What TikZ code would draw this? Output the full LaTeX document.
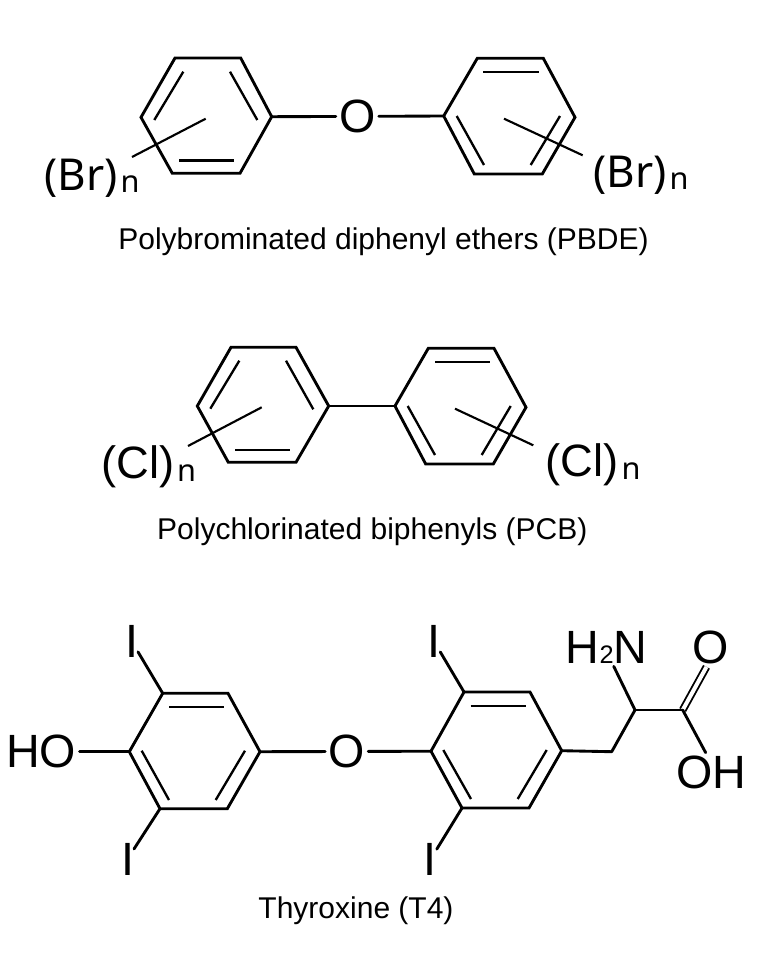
\documentclass[tikz,border=0pt]{standalone}
\usepackage{fontspec}
\setmainfont{Liberation Sans}
\newfontfamily\brfont{Noto Sans}

\begin{document}
\begin{tikzpicture}[x=0.75pt,y=-0.75pt,node distance=36.75pt,
        bond/.style={line width=2.15pt,line join=miter,line cap=round},
        inner/.style={line width=1.75pt,line cap=butt},
        flat/.style={line width=2.2pt,line cap=butt},
        subst/.style={line width=1.6pt},
        atom/.style={font=\fontsize{35}{40}\selectfont,inner sep=0pt,outer sep=2.5pt},
        iodine/.style={atom,outer sep=0pt},
        group/.style={font=\brfont\fontsize{33}{40}\selectfont,inner sep=0pt},
        chlor/.style={font=\fontsize{34}{40}\selectfont,inner sep=0pt},
        subn/.style={font=\brfont\fontsize{23}{28}\selectfont,inner sep=0pt,yshift=-4.5pt},
        caption/.style={font=\fontsize{22.5}{26}\selectfont,inner sep=0pt,anchor=base}]
    \useasboundingbox (0,0) rectangle (760,957);

    % PBDE
    \coordinate (a1) at (175,58); \coordinate (a2) at (240.7,58); \coordinate (a3) at (271.7,116.7);
    \coordinate (a4) at (240,173.3); \coordinate (a5) at (172.3,173.3); \coordinate (a6) at (141,117.3);
    \coordinate (a7) at (183.3,71.7); \coordinate (a8) at (154.3,120);
    \coordinate (a9) at (230,71.7); \coordinate (a10) at (257.3,120);
    \coordinate (a11) at (179,160.7); \coordinate (a12) at (234,160.7);
    \coordinate (a13) at (205.7,118.7); \coordinate (a14) at (132,157);
    \coordinate (b1) at (477.3,58.3); \coordinate (b2) at (543.3,58.3); \coordinate (b3) at (575,117.3);
    \coordinate (b4) at (542.3,174); \coordinate (b5) at (474.3,174); \coordinate (b6) at (443.7,116);
    \coordinate (b7) at (483.3,72); \coordinate (b8) at (539,72);
    \coordinate (b9) at (456.7,116); \coordinate (b10) at (484,165);
    \coordinate (b11) at (560,116); \coordinate (b12) at (530.7,165);
    \coordinate (b13) at (504,118.7); \coordinate (b14) at (582.7,155.3);

    \node[atom] (o1) at (357.3,116.4) {O};
    \node[group] (br1) at (81,178.5) {(Br)};
    \node[subn] (n1) [right of = br1] {n};
    \node[group] (br2) at (630,175) {(Br)};
    \node[subn] (n2) [right of = br2] {n};
    \node[caption] (t1) at (383.5,249) {Polybrominated diphenyl ethers (PBDE)};

    \draw[bond] (a1) -- (a2) -- (a3) -- (a4) -- (a5) -- (a6) -- cycle;
    \draw[bond] (b1) -- (b2) -- (b3) -- (b4) -- (b5) -- (b6) -- cycle;
    \path[bond]
        (a3) edge (o1)
        (o1) edge (b6)
    ;
    \path[inner]
        (a7) edge (a8)
        (a9) edge (a10)
        (b9) edge (b10)
        (b11) edge (b12)
    ;
    \path[flat]
        (a11) edge (a12)
        (b7) edge (b8)
    ;
    \path[subst]
        (a13) edge (a14)
        (b13) edge (b14)
    ;

    % PCB
    \coordinate (c1) at (231,347.3); \coordinate (c2) at (296,347.3); \coordinate (c3) at (328.7,406);
    \coordinate (c4) at (296,462.3); \coordinate (c5) at (228.3,462.3); \coordinate (c6) at (197.3,406);
    \coordinate (c7) at (239.3,360.7); \coordinate (c8) at (210.3,408.7);
    \coordinate (c9) at (286,360.7); \coordinate (c10) at (313.3,409.3);
    \coordinate (c11) at (235.3,450); \coordinate (c12) at (290,450);
    \coordinate (c13) at (261.7,407.3); \coordinate (c14) at (188,446);
    \coordinate (d1) at (428.3,348.3); \coordinate (d2) at (494,348.3); \coordinate (d3) at (526,407.3);
    \coordinate (d4) at (493.3,464); \coordinate (d5) at (425.7,464); \coordinate (d6) at (395,406);
    \coordinate (d7) at (435,362); \coordinate (d8) at (489.7,362);
    \coordinate (d9) at (407.7,406); \coordinate (d10) at (435,455);
    \coordinate (d11) at (510.7,406); \coordinate (d12) at (481.7,455);
    \coordinate (d13) at (455,408.7); \coordinate (d14) at (533.3,445.3);

    \node[chlor] (cl1) at (137.7,467) {(Cl)};
    \node[subn] (n3) [right of = cl1] {n};
    \node[chlor] (cl2) at (582,465) {(Cl)};
    \node[subn] (n4) [right of = cl2] {n};
    \node[caption] (t2) at (372.3,539.5) {Polychlorinated biphenyls (PCB)};

    \draw[bond] (c1) -- (c2) -- (c3) -- (c4) -- (c5) -- (c6) -- cycle;
    \draw[bond] (d1) -- (d2) -- (d3) -- (d4) -- (d5) -- (d6) -- cycle;
    \path[bond]
        (c3) edge (d6)
    ;
    \path[inner]
        (c7) edge (c8)
        (c9) edge (c10)
        (d9) edge (d10)
        (d11) edge (d12)
    ;
    \path[flat]
        (c11) edge (c12)
        (d7) edge (d8)
    ;
    \path[subst]
        (c13) edge (c14)
        (d13) edge (d14)
    ;

    % T4
    \coordinate (e1) at (162.7,693.3); \coordinate (e2) at (228,693.3); \coordinate (e3) at (260,751.7);
    \coordinate (e4) at (227.3,808.7); \coordinate (e5) at (160,808.7); \coordinate (e6) at (129.3,751.7);
    \coordinate (e7) at (169,707); \coordinate (e8) at (224,707);
    \coordinate (e9) at (141.7,750.7); \coordinate (e10) at (169,800);
    \coordinate (e11) at (245,750.7); \coordinate (e12) at (215.7,800);
    \coordinate (f1) at (464,692); \coordinate (f2) at (530,692); \coordinate (f3) at (561.7,750.7);
    \coordinate (f4) at (529,808); \coordinate (f5) at (462,808); \coordinate (f6) at (431,751.2);
    \coordinate (f7) at (470.7,706); \coordinate (f8) at (525.7,706);
    \coordinate (f9) at (443.3,750); \coordinate (f10) at (471,799);
    \coordinate (f11) at (546.7,750); \coordinate (f12) at (517.7,799);
    \coordinate (g1) at (611.7,751.7); \coordinate (g2) at (635,710); \coordinate (g3) at (682.7,710);

    \node[atom] (ho) at (41.3,751.7) {HO};
    \node[atom] (o2) at (346.7,751.5) {O};
    \node[iodine] (i1) at (131.5,641) {I};
    \node[iodine] (i2) at (127.5,859) {I};
    \node[iodine] (i3) at (433.8,641) {I};
    \node[iodine] (i4) at (430.3,859.7) {I};
    \node[atom] (h2n) at (606.7,647) {H{\fontsize{19}{20}\selectfont 2}N};
    \node[atom] (o3) at (710.7,647) {O};
    \node[atom] (oh) at (711,772.5) {OH};
    \node[caption] (t3) at (356,918) {Thyroxine (T4)};

    \draw[bond] (e1) -- (e2) -- (e3) -- (e4) -- (e5) -- (e6) -- cycle;
    \draw[bond] (f1) -- (f2) -- (f3) -- (f4) -- (f5) -- (f6) -- cycle;
    \path
        (g3) edge[line width=1.4pt,double,double distance=3pt] (o3.-102)
    ;
    \path[bond]
        (ho) edge (e6)
        (e3) edge (o2)
        (o2) edge (f6)
        (i1) edge (e1)
        (i2) edge (e5)
        (i3) edge (f1)
        (i4) edge (f5)
        (f3) edge (g1)
        (g1) edge (g2)
        (g2) edge (g3)
        (g2) edge (h2n.-70)
        (g3) edge (oh.105)
    ;
    \path[inner]
        (e9) edge (e10)
        (e11) edge (e12)
        (f9) edge (f10)
        (f11) edge (f12)
    ;
    \path[flat]
        (e7) edge (e8)
        (f7) edge (f8)
    ;
\end{tikzpicture}
\end{document}
